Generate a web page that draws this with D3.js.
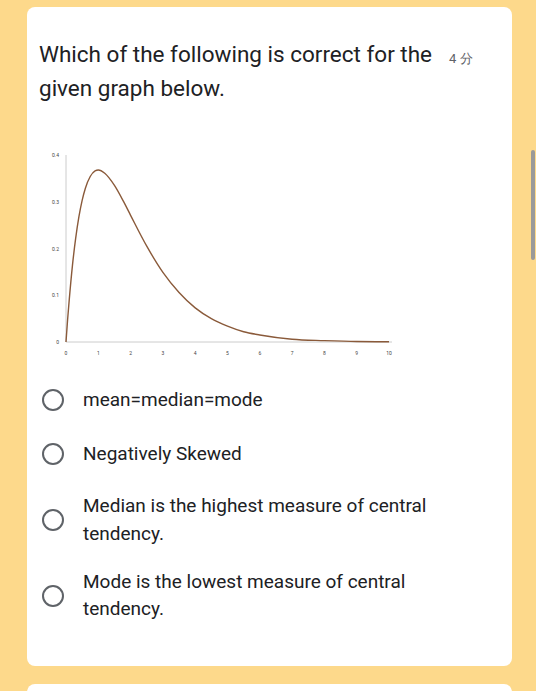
<!DOCTYPE html>
<html><head><meta charset="utf-8">
<script src="https://cdn.jsdelivr.net/npm/d3@7"></script>
<style>body{margin:0;background:#fdd98b;font-family:Roboto,sans-serif;}</style>
</head><body>
<svg id="s" width="536" height="691"></svg>
<script>
const xTicks=[0,1,2,3,4,5,6,7,8,9,10];
const yTicks=[0,0.1,0.2,0.3,0.4];
const curveX=[0,0.05,0.1,0.2,0.3,0.4,0.5,0.6,0.75,0.9,1,1.2,1.5,1.8,2,2.5,3,3.5,4,4.5,5,5.5,6,7,8,9,10];
const curveY=[0,0.048,0.09,0.164,0.222,0.268,0.303,0.329,0.354,0.366,0.368,0.361,0.335,0.298,0.271,0.205,0.149,0.106,0.073,0.05,0.034,0.022,0.015,0.006,0.003,0.001,0.0005];
const question=["Which of the following is correct for the","given graph below."];
const options=[["mean=median=mode"],["Negatively Skewed"],["Median is the highest measure of central","tendency."],["Mode is the lowest measure of central","tendency."]];
const optY=[[400],[454],[506,534],[582,609]];
const circY=[400,454,520,596];

const svg=d3.select("#s");
svg.append("rect").attr("x",27).attr("y",7).attr("width",485).attr("height",659).attr("rx",8).attr("fill","#fff");
svg.append("rect").attr("x",27).attr("y",684).attr("width",485).attr("height",20).attr("rx",8).attr("fill","#fff");
svg.append("rect").attr("x",531).attr("y",150).attr("width",4).attr("height",110).attr("rx",2).attr("fill","#9a9a9a");
question.forEach((t,i)=>svg.append("text").attr("x",39).attr("y",62+i*34).attr("font-size",22.5).attr("fill","#202124").text(t));
svg.append("text").attr("x",449).attr("y",63).attr("font-size",13).attr("fill","#5f6368").text("4 分");

const x=d3.scaleLinear().domain([0,10]).range([66,389]);
const y=d3.scaleLinear().domain([0,0.4]).range([342,155]);
svg.append("line").attr("x1",66).attr("x2",66).attr("y1",155).attr("y2",342).attr("stroke","#ccc");
svg.append("line").attr("x1",66).attr("x2",392).attr("y1",342).attr("y2",342).attr("stroke","#ccc");
svg.selectAll(".xt").data(xTicks).enter().append("text").attr("x",d=>x(d)).attr("y",355).attr("text-anchor","middle").attr("font-size",5).attr("fill","#444").text(d=>d);
svg.selectAll(".yt").data(yTicks).enter().append("text").attr("x",59).attr("y",d=>y(d)+2).attr("text-anchor","end").attr("font-size",5).attr("fill","#444").text(d=>d);
const pts=curveX.map((v,i)=>[v,curveY[i]]);
svg.append("path").attr("d",d3.line().x(d=>x(d[0])).y(d=>y(d[1])).curve(d3.curveMonotoneX)(pts)).attr("fill","none").attr("stroke","#8a5a3a").attr("stroke-width",1.4);

options.forEach((lines,i)=>{
  svg.append("circle").attr("cx",53).attr("cy",circY[i]).attr("r",10).attr("fill","none").attr("stroke","#5f6368").attr("stroke-width",2);
  lines.forEach((t,j)=>svg.append("text").attr("x",83).attr("y",optY[i][j]+6).attr("font-size",19).attr("fill","#202124").text(t));
});
</script></body></html>
